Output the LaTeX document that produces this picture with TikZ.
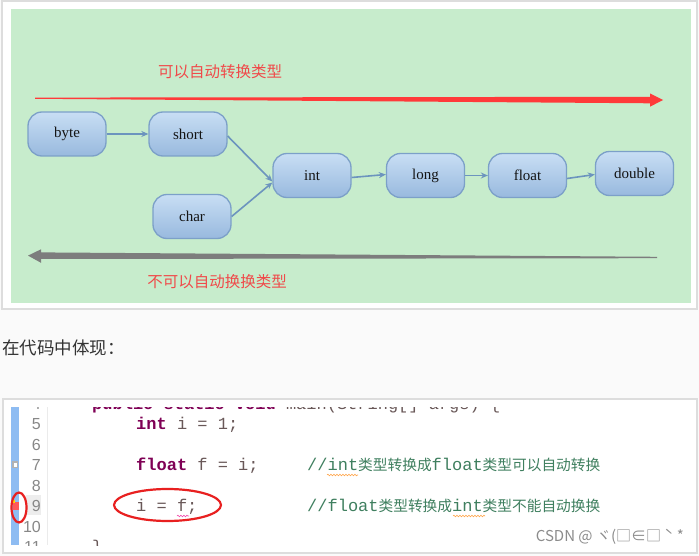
\documentclass[tikz,border=0pt]{standalone}
\usepackage{xcolor}
\usepackage{fontspec}
\setmainfont{Liberation Serif}
\newfontfamily\cjk{Noto Sans CJK SC}
\newfontfamily\codefont{Liberation Mono}
\newfontfamily\numfont{Liberation Sans}
\usepackage{tikz}
\usetikzlibrary{arrows.meta,positioning,decorations.pathmorphing}

\definecolor{greenbg}{RGB}{199,236,204}
\definecolor{framegray}{RGB}{221,221,221}
\definecolor{pagebg}{RGB}{250,250,250}
\definecolor{boxtop}{RGB}{200,222,244}
\definecolor{boxbot}{RGB}{152,185,222}
\definecolor{boxline}{RGB}{124,160,200}
\definecolor{flowblue}{RGB}{108,148,190}
\definecolor{hintred}{RGB}{240,74,74}
\definecolor{arrowred}{RGB}{255,58,58}
\definecolor{arrowgray}{RGB}{125,125,125}
\definecolor{kwpurple}{RGB}{127,0,85}
\definecolor{cmtgreen}{RGB}{63,127,95}
\definecolor{vargray}{RGB}{105,88,88}
\definecolor{lnumgray}{RGB}{135,135,135}
\definecolor{rulerblue}{RGB}{142,188,242}
\definecolor{markred}{RGB}{232,32,32}

\newcommand{\kw}[1]{{\bfseries\color{kwpurple}#1}}
\newcommand{\zh}[1]{{\cjk\fontsize{14.7}{17}\selectfont #1}}

\begin{document}
\begin{tikzpicture}[
    x=1pt, y=-1pt,
    typebox/.style={
        draw=boxline,
        line width=1.3pt,
        rounded corners=14pt,
        top color=boxtop,
        bottom color=boxbot,
        minimum width=78pt,
        minimum height=44pt,
        inner sep=0pt,
        text=black!92,
        font=\fontsize{15}{15}\selectfont
    },
    flow/.style={-{Stealth[length=7pt,width=6pt]}, line width=1.6pt, draw=flowblue},
    hint/.style={text=hintred, font=\cjk\fontsize{15.5}{16}\selectfont, inner sep=0pt},
    codeline/.style={anchor=base west, inner sep=0pt, text=vargray,
        font=\codefont\fontsize{17}{17}\selectfont},
    comment/.style={codeline, text=cmtgreen},
    lnum/.style={anchor=base east, inner sep=0pt, text=lnumgray,
        font=\numfont\fontsize{16}{16}\selectfont},
    squiggle/.style={decorate, decoration={snake, amplitude=0.8pt, segment length=3pt}, line width=0.6pt},
    ring/.style={draw=markred, line width=2.2pt}
]

% Stable crop.
\path[use as bounding box] (0,0) rectangle (699,556);
\fill[pagebg] (0,0) rectangle (699,556);

% --------------------------------------------------
% Upper figure: conversion chart
% --------------------------------------------------
\filldraw[fill=white, draw=framegray, line width=2pt] (2,1) rectangle (697,309);
\fill[greenbg] (11,9) rectangle (691,303);

\node[hint] (canlabel) at (220,72) {可以自动转换类型};
\node[hint] (cannotlabel) at (217,282) {不可以自动换换类型};

% Direction arrows, drawn as tapered shapes.
\fill[arrowred] (35,97.6) -- (650,96.8) -- (650,93.5) -- (663,100) -- (650,106.7)
    -- (650,103.3) -- (35,98.8) -- cycle;
\fill[arrowgray] (657,256.8) -- (41,252.4) -- (41,249.3) -- (28,255.6) -- (41,262.8)
    -- (41,259) -- (657,258.2) -- cycle;

\node[typebox] (byte)   at (67,134)  {byte};
\node[typebox] (short)  at (188,134) {short};
\node[typebox] (char)   at (192,216.5) {char};
\node[typebox] (int)    at (312,175.5) {int};
\node[typebox] (long)   at (425.5,175.5) {long};
\node[typebox] (float)  at (527.5,175.5) {float};
\node[typebox] (double) at (634.5,173.5) {double};

\draw[flow] (byte.east) -- (short.west);
\draw[flow] ([yshift=-2pt]short.east) -- ([yshift=-6pt]int.west);
\draw[flow] (char.east) -- ([yshift=-7pt]int.west);
\draw[flow] ([yshift=-2pt]int.east) -- ([yshift=1pt]long.west);
\draw[flow] (long.east) -- (float.west);
\draw[flow] ([yshift=-3pt]float.east) -- ([yshift=-1pt]double.west);

% --------------------------------------------------
% Caption line
% --------------------------------------------------
\node[anchor=west, inner sep=0pt, text=black!80,
    font=\cjk\fontsize{17.5}{18}\selectfont] (caption) at (2,348) {在代码中体现：};

% --------------------------------------------------
% Lower figure: editor screenshot
% --------------------------------------------------
\filldraw[fill=white, draw=framegray, line width=2pt] (3,399) rectangle (697,553);
\fill[rulerblue] (11,407) rectangle (19,545);
\fill[black!7] (26,495) rectangle (41,515);
\draw[black!8, line width=0.8pt] (47,407) -- (47,545);

% Line numbers, clipped to the visible ruler.
\begin{scope}
\clip (20,407) rectangle (46,545);
\foreach \n [count=\k from 0] in {4,...,11}
    \node[lnum] (num\n) at (41,409+20.5*\k) {\n};
\end{scope}

% Source text, clipped to the visible editor area.
\begin{scope}
\clip (48,407.5) rectangle (696,545);
\node[codeline] (line4) at (92,409) {\kw{public static void} main(String[] args) \{};
\node[codeline] (line5) at (136,429.5) {\kw{int} i = 1;};
\node[codeline] (line7) at (136,470.5) {\kw{float} f = i;};
\node[codeline] (line9) at (136,511.5) {i = f;};
\node[codeline] (line11) at (92,552.5) {\}};
\node[comment] (note7) at (307,470.5) {//int\zh{类型转换成}float\zh{类型可以自动转换}};
\node[comment] (note9) at (307,511.5) {//float\zh{类型转换成}int\zh{类型不能自动换换}};
\end{scope}

% Problem markers.
\fill[black!30] (12,461) rectangle (18,468);
\fill[white] (13.5,463) rectangle (16.5,467);
\fill[red!65] (13,502) rectangle (19,510);
\fill[yellow!80!orange] (12,500) rectangle (15,503);
\draw[squiggle, orange!70] (327,475) -- (358,475);
\draw[squiggle, magenta!70] (177,516) -- (189,516);
\draw[squiggle, orange!70] (453,516) -- (485,516);

% Highlight rings.
\draw[ring] (167.5,505) ellipse [x radius=53.5pt, y radius=16pt];
\draw[ring] (19,507.5) ellipse [x radius=7.5pt, y radius=15pt];

% Watermark.
\node[anchor=east, inner sep=0pt, text=black!45,
    font=\cjk\fontsize{15}{15}\selectfont] (mark) at (684,537) {CSDN @ ヾ(□∈□ ˋ *};

\end{tikzpicture}
\end{document}
